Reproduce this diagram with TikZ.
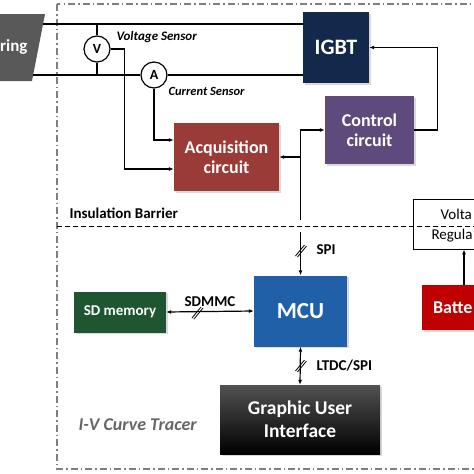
\documentclass[tikz,border=0pt]{standalone}
\usepackage{fontspec}
\setmainfont{Carlito}
\usetikzlibrary{arrows.meta,shadows,positioning}
\definecolor{IgbtBlue}{HTML}{13294B}
\definecolor{AcqRed}{HTML}{9B3B38}
\definecolor{CtrlPurple}{HTML}{5F4A7E}
\definecolor{McuBlue}{HTML}{1F60A8}
\definecolor{SdGreen}{HTML}{1E5631}
\definecolor{BattRed}{HTML}{C00000}
\definecolor{PvGray}{HTML}{595959}
\definecolor{FrameGray}{HTML}{7F7F7F}

\begin{document}
\begin{tikzpicture}[x=1pt,y=-1pt,
        block/.style = {rectangle,
            inner sep=0pt,
            text=white,
            align=center,
            font=\bfseries\fontsize{18}{20}\selectfont,
            drop shadow={shadow xshift=1.5pt,shadow yshift=-1.5pt,opacity=0.3}},
        sensor/.style = {circle,
            draw,
            line width=1.2pt,
            fill=white,
            minimum size=26pt,
            inner sep=0pt,
            font=\bfseries\fontsize{14}{14}\selectfont},
        power/.style = {line width=2.8pt},
        wire/.style = {line width=1.2pt},
        arr/.style = {wire, -{Latex[length=5pt,width=4pt]}},
        biarr/.style = {wire, {Latex[length=5pt,width=4pt]}-{Latex[length=5pt,width=4pt]}},
        tag/.style = {font=\bfseries\fontsize{15}{15}\selectfont}]

    \useasboundingbox (0,0) rectangle (474,474);

    % Outer frame and insulation barrier
    \draw[FrameGray, line width=1.4pt,
        dash pattern=on 7pt off 3pt on 1.5pt off 3pt] (57,4) rectangle (500,469);

    % PV string (cut at the left edge)
    \fill[PvGray] (-10,14) -- (45,14) -- (32,81) -- (-10,81) -- cycle;
    \node[anchor=east, text=white, font=\bfseries\fontsize{17}{17}\selectfont] (pvtext) at (31,47) {ring};
    \coordinate (pvtop) at (43,24);
    \coordinate (pvbot) at (33,75);

    % Blocks
    \node[block, fill=IgbtBlue, minimum width=66pt, minimum height=71pt,
        font=\bfseries\fontsize{22}{22}\selectfont] (igbt) at (336,47.5) {IGBT};
    \node[block, fill=AcqRed, minimum width=105pt, minimum height=68pt] (acq) at (226.5,157) {Acquisition\\circuit};
    \node[block, fill=CtrlPurple, minimum width=89pt, minimum height=68pt] (ctrl) at (369.5,130) {Control\\circuit};
    \node[block, fill=McuBlue, minimum width=93pt, minimum height=71pt,
        font=\bfseries\fontsize{23}{23}\selectfont] (mcu) at (300.5,311) {MCU};
    \node[block, fill=SdGreen, minimum width=92pt, minimum height=41pt,
        font=\bfseries\fontsize{15}{15}\selectfont] (sdmem) at (120,312) {SD memory};
    \node[block, top color=black!68, middle color=black, bottom color=black, minimum width=160pt, minimum height=69pt,
        font=\bfseries\fontsize{19.5}{23}\selectfont] (gui) at (300,419.5) {Graphic User\\Interface};
    \node[block, fill=BattRed, minimum width=84pt, minimum height=45pt,
        inner xsep=11pt, text width=62pt, align=left] (battery) at (464,307.5) {Batte};
    \node[draw, line width=0.9pt, fill=white, minimum width=102pt, minimum height=50pt] (volreg) at (464,224) {};
    \node[anchor=west, font=\fontsize{15}{15}\selectfont] (regtext1) at (437,214) {Volta};
    \node[anchor=west, font=\fontsize{15}{15}\selectfont] (regtext2) at (428,236) {Regula};

    \draw[line width=0.9pt, dash pattern=on 5pt off 3pt] (57,226) -- (474,226);

    % Sensors
    \node[sensor] (vsens) at (97,49) {V};
    \node[sensor] (asens) at (154,75) {A};
    \node[anchor=west, font=\bfseries\itshape\fontsize{13}{13}\selectfont] (vlabel) at (113,37) {Voltage Sensor};
    \node[anchor=west, font=\bfseries\itshape\fontsize{12.5}{12.5}\selectfont] (alabel) at (165,91) {Current Sensor};

    % Power lines
    \draw[power] (pvtop) -- (pvtop -| igbt.west);
    \draw[power] (pvbot) -- (asens.west);
    \draw[power] (asens.east) -- (asens.east -| igbt.west);
    \draw[wire] (vsens.north) -- (vsens.north |- pvtop);
    \draw[wire] (vsens.south) -- (vsens.south |- pvbot);

    % Sensor outputs
    \draw[arr] (vsens.east) -- ++(14,0) |- ([yshift=-12pt]acq.west);
    \draw[arr] (asens.south) |- ([yshift=17pt]acq.west);

    % Control loop
    \draw[arr] (ctrl.east) -- ++(23,0) |- (igbt.east);

    % SPI bus across the barrier
    \coordinate (busup) at (mcu.north |- 0,220);
    \coordinate (buslow) at (mcu.north |- 0,232);
    \coordinate (spimark) at (mcu.north |- 0,250);
    \draw[arr] (busup) |- (ctrl.west);
    \draw[arr] (mcu.north |- acq.east) -- (acq.east);
    \draw[arr] (buslow) -- (mcu.north);
    \draw[wire, line width=0.8pt] ([shift={(-5,6)}]spimark) -- ++(9,-11);
    \draw[wire, line width=0.8pt] ([shift={(-3,7)}]spimark) -- ++(9,-11);
    \node[tag, anchor=west] (spilabel) at (313,250) {SPI};

    % MCU links
    \draw[biarr] (mcu.south) -- (gui.north);
    \coordinate (ltdcmark) at (mcu.south |- 0,365);
    \draw[wire, line width=0.8pt] ([shift={(-5,6)}]ltdcmark) -- ++(9,-11);
    \draw[wire, line width=0.8pt] ([shift={(-3,7)}]ltdcmark) -- ++(9,-11);
    \node[tag, anchor=west] (ltdclabel) at (313,366) {LTDC/SPI};

    \draw[biarr] (mcu.west) -- node[tag, above=1pt] (sdmmclabel) {SDMMC} (sdmem.east);
    \coordinate (sdmark) at (197,312);
    \draw[wire, line width=0.8pt] ([shift={(-5,6)}]sdmark) -- ++(9,-11);
    \draw[wire, line width=0.8pt] ([shift={(-3,7)}]sdmark) -- ++(9,-11);

    % Battery to regulator
    \draw[arr] (battery.north) -- (volreg.south);

    % Area labels
    \node[anchor=west, font=\bfseries\fontsize{15}{15}\selectfont] (barrier) at (66,213) {Insulation Barrier};
    \node[anchor=west, text=black!60, font=\bfseries\itshape\fontsize{18}{18}\selectfont] (tracer) at (75,425) {I-V Curve Tracer};

\end{tikzpicture}
\end{document}
